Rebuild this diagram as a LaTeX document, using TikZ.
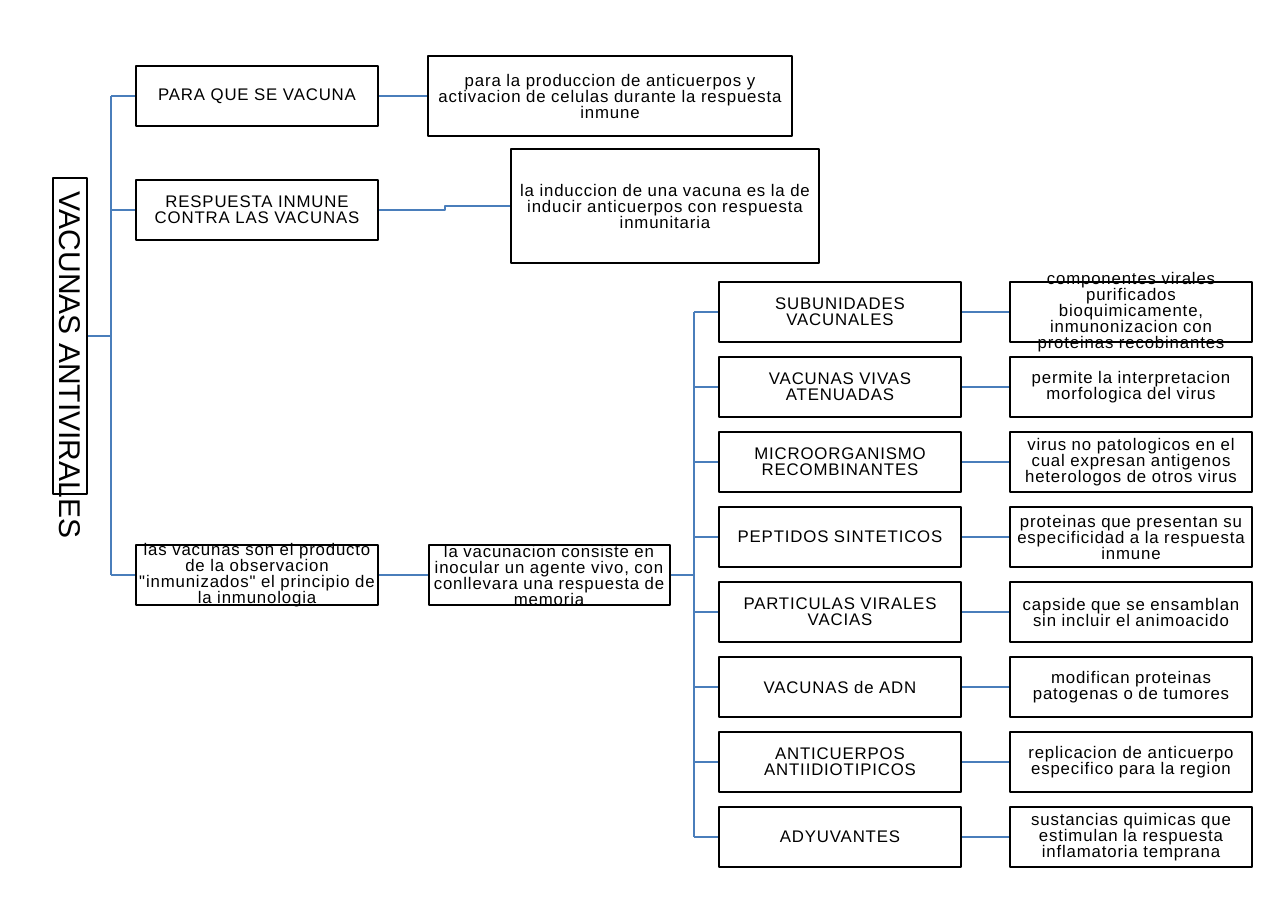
\documentclass[tikz,border=0pt]{standalone}
\usepackage{fontspec}
\newfontfamily\boxfont{Liberation Sans}[LetterSpace=5]
\definecolor{linkblue}{RGB}{74,126,187}
\tikzset{
  box/.style={draw, line width=2pt, minimum width=242pt, minimum height=60pt, align=center, inner xsep=2pt, inner ysep=0pt},
  link/.style={draw=linkblue, line width=1.8pt},
}
\begin{document}
\begin{tikzpicture}[x=1pt, y=-1pt, font=\boxfont\fontsize{16.8}{16}\selectfont, line join=round]
\useasboundingbox (0,0) rectangle (1280,905);

% titulo
\node[draw, line width=1.5pt, minimum width=34pt, minimum height=316pt] (title) at (70,336) {};
\node[rotate=-90, font=\boxfont\fontsize{30}{30}\selectfont\addfontfeature{LetterSpace=0}] (titletext) at (70,365) {VACUNAS ANTIVIRALES};

\path (111,0) coordinate (trunkL) (694,0) coordinate (trunkR);

% primer nivel
\node[box] (a1) at (257,96) {PARA QUE SE VACUNA};
\node[box] (a2) at (257,210) {RESPUESTA INMUNE\\CONTRA LAS VACUNAS};
\node[box, inner ysep=-14pt] (a3) at (257,575) {las vacunas son el producto\\de la observacion\\"inmunizados" el principio de\\la inmunologia};

\node[box, minimum width=364pt, minimum height=80pt] (b1) at (610,96) {para la produccion de anticuerpos y\\activacion de celulas durante la respuesta\\inmune};
\node[box, minimum width=308pt, minimum height=114pt] (b2) at (665,206) {la induccion de una vacuna es la de\\inducir anticuerpos con respuesta\\inmunitaria};
\node[box, minimum width=241pt, inner ysep=-14pt] (b3) at (549,575) {la vacunacion consiste en\\inocular un agente vivo, con\\conllevara una respuesta de\\memoria};

% tipos de vacunas
\foreach \ctext/\dtext [count=\k] in {
  {SUBUNIDADES\\VACUNALES}/{componentes virales\\purificados\\bioquimicamente,\\inmunonizacion con\\proteinas recobinantes},
  {VACUNAS VIVAS\\ATENUADAS}/{permite la interpretacion\\morfologica del virus},
  {MICROORGANISMO\\RECOMBINANTES}/{virus no patologicos en el\\cual expresan antigenos\\heterologos de otros virus},
  {PEPTIDOS SINTETICOS}/{proteinas que presentan su\\especificidad a la respuesta\\inmune},
  {PARTICULAS VIRALES\\VACIAS}/{capside que se ensamblan\\sin incluir el animoacido},
  {VACUNAS de ADN}/{modifican proteinas\\patogenas o de tumores},
  {ANTICUERPOS\\ANTIIDIOTIPICOS}/{replicacion de anticuerpo\\especifico para la region},
  {ADYUVANTES}/{sustancias quimicas que\\estimulan la respuesta\\inflamatoria temprana}}
{
  \node[box] (c\k) at (840,{237+75*\k}) {\ctext};
  \node[box, inner ysep=-14pt] (d\k) at (1131,{237+75*\k}) {\dtext};
  \draw[link] (c\k.west -| trunkR) -- (c\k.west) (c\k.east) -- (d\k.west);
}

\draw[link] (c1.west -| trunkR) -- (c8.west -| trunkR);
\draw[link] (b3.east) -- (b3.east -| trunkR);
\draw[link] (a1.west -| trunkL) -- (a3.west -| trunkL);
\foreach \p in {a1,a2,a3}
  \draw[link] (\p.west -| trunkL) -- (\p.west);
\draw[link] (title.east) -- (title.east -| trunkL);
\draw[link] (a1.east) -- (b1.west);
\draw[link] (a2.east) -- ++(66,0) |- (b2.west);
\draw[link] (a3.east) -- (b3.west);
\end{tikzpicture}
\end{document}
